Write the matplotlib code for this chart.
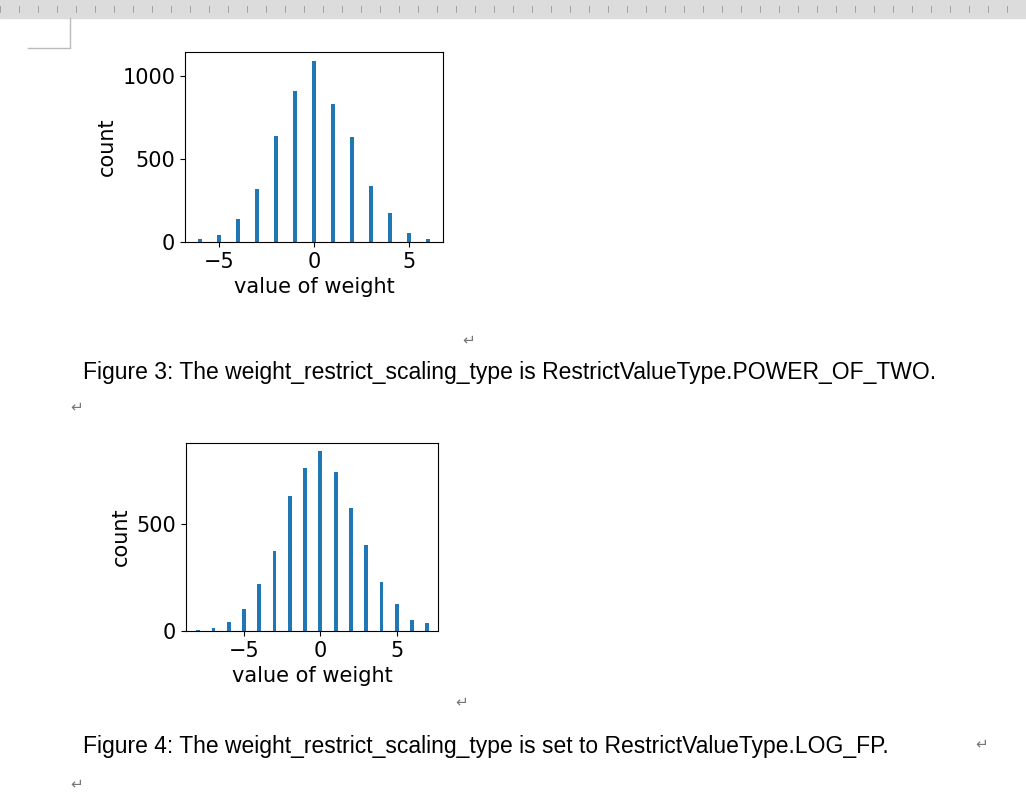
import matplotlib
matplotlib.use("Agg")
import matplotlib.pyplot as plt

W, H = 1026, 807
x3 = [-6, -5, -4, -3, -2, -1, 0, 1, 2, 3, 4, 5, 6]
c3 = [18, 45, 140, 320, 640, 910, 1090, 830, 632, 337, 175, 55, 20]
x4 = [-8, -7, -6, -5, -4, -3, -2, -1, 0, 1, 2, 3, 4, 5, 6, 7]
c4 = [6, 15, 42, 103, 220, 374, 630, 762, 841, 743, 575, 402, 229, 126, 51, 37]
cap3 = "Figure 3: The weight_restrict_scaling_type is RestrictValueType.POWER_OF_TWO."
cap4 = "Figure 4: The weight_restrict_scaling_type is set to RestrictValueType.LOG_FP."

fig = plt.figure(figsize=(W/100, H/100), dpi=100)
def ax_px(l, t, r, b):
    return fig.add_axes([l/W, 1-b/H, (r-l)/W, (b-t)/H])

bg = fig.add_axes([0, 0, 1, 1]); bg.set_xlim(0, W); bg.set_ylim(H, 0); bg.axis("off")
bg.add_patch(plt.Rectangle((0, 0), W, 18, color="#dcdcdc"))
bg.plot([70, 70, 28], [18, 48, 48], color="#bbbbbb", lw=1)
for xx in range(0, W, 19):
    bg.plot([xx, xx], [6, 12], color="#999999", lw=0.6)
bg.text(83, 372, cap3, fontsize=16.5, family="Liberation Sans", va="center")
bg.text(83, 746, cap4, fontsize=16.5, family="Liberation Sans", va="center")
for (x, y) in [(462, 340), (70, 407), (455, 702), (975, 744), (70, 784)]:
    bg.text(x, y, "↵", fontsize=11, color="#777777", va="center", family="DejaVu Sans")

def style(a):
    a.set_xlabel("value of weight", fontsize=15); a.set_ylabel("count", fontsize=15)
    a.tick_params(labelsize=15)

a1 = ax_px(185, 52, 443, 242)
a1.bar(x3, c3, width=0.22, color="#1f77b4")
a1.set_xlim(-6.8, 6.8); a1.set_ylim(0, 1145)
a1.set_yticks([0, 500, 1000]); a1.set_xticks([-5, 0, 5])
style(a1)

a2 = ax_px(186, 443, 438, 631)
a2.bar(x4, c4, width=0.25, color="#1f77b4")
a2.set_xlim(-8.8, 7.7); a2.set_ylim(0, 880)
a2.set_yticks([0, 500]); a2.set_xticks([-5, 0, 5])
style(a2)

fig.savefig("out.png", dpi=100)
